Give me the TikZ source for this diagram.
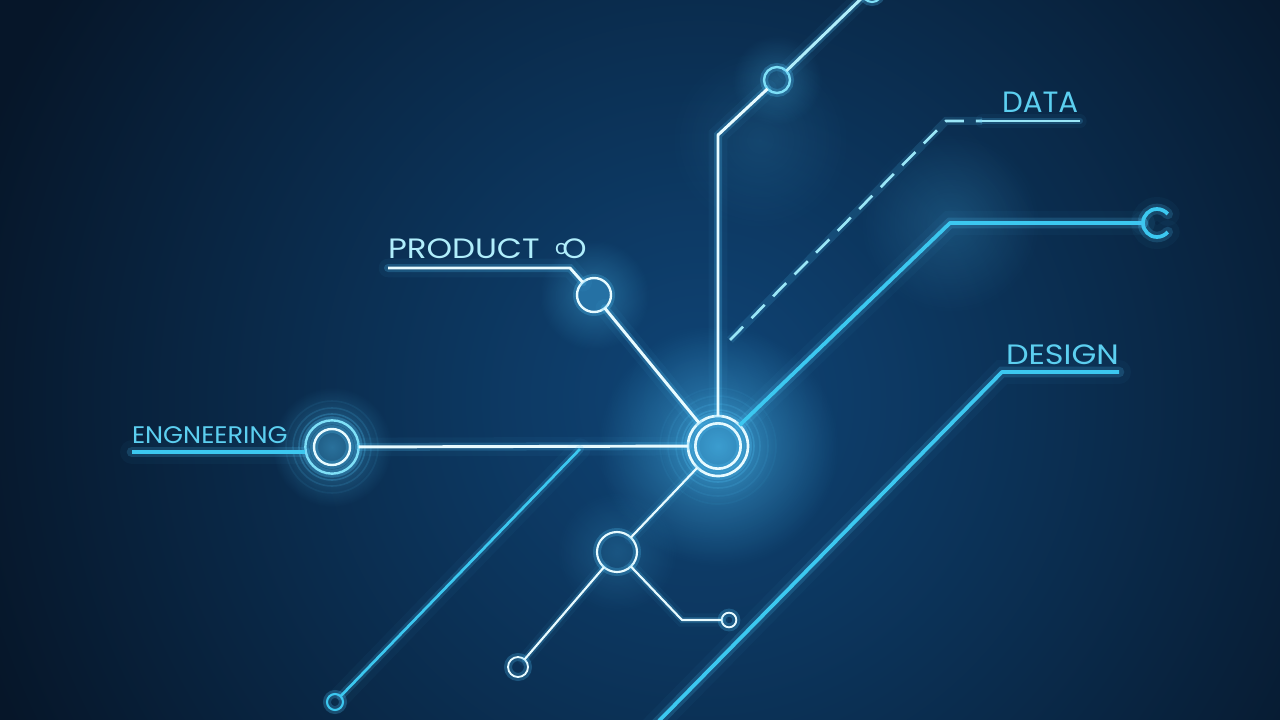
\documentclass[tikz,border=0pt]{standalone}
\usepackage{fontspec}
\usepackage{graphicx}
\setmainfont{Poppins}
\usetikzlibrary{fadings}
\definecolor{bgin}{HTML}{0F4577}
\definecolor{bgout}{HTML}{061629}
\definecolor{wcol}{HTML}{E8FBFF}
\definecolor{ccol}{HTML}{3CC8F0}
\definecolor{gcol}{HTML}{4FC3F7}
\definecolor{tcol}{HTML}{5CCFF0}
\definecolor{pcol}{HTML}{B0EEFB}
\definecolor{dcol}{HTML}{9AE6F7}
\definecolor{ecol}{HTML}{7FE0F7}
\tikzfading[name=halo, inner color=transparent!0, outer color=transparent!100]
\begin{document}
\begin{tikzpicture}[x=0.75pt,y=-0.75pt,
  wline/.style={draw=wcol, line width=2.2pt, line join=round,
    preaction={draw=gcol, line width=14pt, opacity=0.05, line cap=round},
    preaction={draw=gcol, line width=6pt, opacity=0.22, line cap=round}},
  wthin/.style={draw=wcol, line width=1.6pt, line join=round,
    preaction={draw=gcol, line width=10pt, opacity=0.05, line cap=round},
    preaction={draw=gcol, line width=4.5pt, opacity=0.2, line cap=round}},
  cline/.style={draw=ccol, line width=2.8pt, line join=round,
    preaction={draw=gcol, line width=18pt, opacity=0.04, line cap=round},
    preaction={draw=gcol, line width=8pt, opacity=0.18, line cap=round}},
  cthin/.style={draw=ccol, line width=2pt, line join=round,
    preaction={draw=gcol, line width=16pt, opacity=0.04, line cap=round},
    preaction={draw=gcol, line width=6pt, opacity=0.18, line cap=round}},
  dline/.style={draw=dcol, line width=2pt, dash pattern=on 14pt off 9pt,
    preaction={draw=gcol, line width=6pt, opacity=0.15}},
  ring/.style={circle, draw=wcol, line width=1.8pt, minimum size=#1,
    inner sep=0pt, outer sep=0pt,
    preaction={draw=gcol, line width=6pt, opacity=0.25}},
  lab/.style={inner sep=0pt, outer sep=0pt},
  haloc/.style={fill=gcol, path fading=halo}
]
\useasboundingbox (0,0) rectangle (1280,720);
\begin{scope}
\clip (0,0) rectangle (1280,720);
% background
\fill[bgout] (0,0) rectangle (1280,720);
\shade[inner color=bgin, outer color=bgout] (700,400) circle (760);

% coordinates
\coordinate (eL) at (132,452);
\coordinate (b1) at (580,449);
\coordinate (p0) at (388,268);
\coordinate (p1) at (570,268);
\coordinate (v1) at (718,135);
\coordinate (tE) at (866,-6);
\coordinate (d0) at (730,340);
\coordinate (d1) at (946,121);
\coordinate (d2) at (982,121);
\coordinate (d3) at (1080,121);
\coordinate (c1) at (950,223);
\coordinate (cl) at (1143,223);
\coordinate (ds0) at (1002,372);
\coordinate (ds1) at (1119,372);
\coordinate (ds2) at (652,728);
\coordinate (k1) at (682,620);

% halos
\fill[haloc, opacity=0.55] (718,446) circle (120);
\fill[haloc, opacity=0.35] (718,446) circle (60);
\fill[haloc, opacity=0.45] (332,447) circle (60);
\fill[haloc, opacity=0.35] (594,295) circle (55);
\fill[haloc, opacity=0.25] (777,80) circle (45);
\fill[haloc, opacity=0.2] (950,223) circle (90);
\fill[haloc, opacity=0.2] (617,552) circle (60);
\fill[haloc, opacity=0.12] (760,140) circle (90);

% nodes
\node[ring=45pt, line width=2pt] (H) at (718,446) {};
\node[ring=34pt, line width=2pt] (H2) at (718,446) {};
\node[ring=40pt, draw=ecol] (E) at (332,447) {};
\node[ring=27pt] (E2) at (332,447) {};
\node[ring=25.5pt, fill=gcol!35!bgin] (P) at (594,295) {};
\node[ring=19.5pt, draw=ecol] (T) at (777,80) {};
\node[ring=30pt, line width=1.6pt] (L) at (617,552) {};
\node[ring=15pt, line width=1.4pt] (S) at (518,667) {};
\node[ring=11pt, line width=1.4pt] (Q) at (729,620) {};
\node[ring=12pt, draw=ccol, line width=1.6pt] (N1) at (335,702) {};
\node[ring=15pt, draw=ecol, line width=1.6pt] (T2) at (872,-8) {};

% glow rings
\foreach \r/\o in {36/0.25,42/0.16,50/0.1,58/0.06}
  \draw[gcol, line width=1.2pt, opacity=\o] (H) circle (\r);
\foreach \r/\o in {33/0.25,39/0.15,46/0.08}
  \draw[gcol, line width=1.2pt, opacity=\o] (E) circle (\r);

% connectors
\draw[cline] (eL) -- (E.west |- eL);
\draw[wline] (E) -- (H);
\draw[cthin] (b1) -- (N1);
\draw[wline] (p0) -- (p1) -- (P);
\draw[wline] (P) -- (H);
\draw[wline] (H) -- (v1) -- (T);
\draw[wline, draw=pcol] (T) -- (tE);
\draw[dline] (d0) -- (d1) -- (d2);
\draw[wthin, draw=dcol] (d2) -- (d3);
\draw[cline] (H) -- (c1) -- (cl);
\draw[cline] (cl) arc[start angle=180, end angle=40, radius=14];
\draw[cline] (cl) arc[start angle=180, end angle=320, radius=14];
\draw[cline] (ds1) -- (ds0) -- (ds2);
\draw[wthin] (H) -- (L);
\draw[wthin] (L) -- (S);
\draw[wthin] (L) -- (k1) -- (Q);

% labels
\node[lab, text=tcol, anchor=base west] (tEng) at (132,443)
  {\fontsize{18}{18}\selectfont\scalebox{1.07}[1]{ENGNEERING}};
\node[lab, text=pcol, anchor=base west] (tProd) at (388,258)
  {\fontsize{21}{21}\selectfont\scalebox{1.16}[1]{PRODUCT}};
\node[lab, text=pcol, anchor=base west] (tCo) at (555,258)
  {\fontsize{21}{21}\selectfont\raisebox{3pt}{\fontsize{15}{15}\selectfont c}\kern-3.5pt\scalebox{1.1}[1]{O}};
\node[lab, text=tcol, anchor=base west] (tData) at (1002,113)
  {\fontsize{22}{22}\selectfont DATA};
\node[lab, text=tcol, anchor=base west] (tDes) at (1006,364)
  {\fontsize{21}{21}\selectfont\scalebox{1.14}[1]{DESIGN}};
\end{scope}
\end{tikzpicture}
\end{document}
